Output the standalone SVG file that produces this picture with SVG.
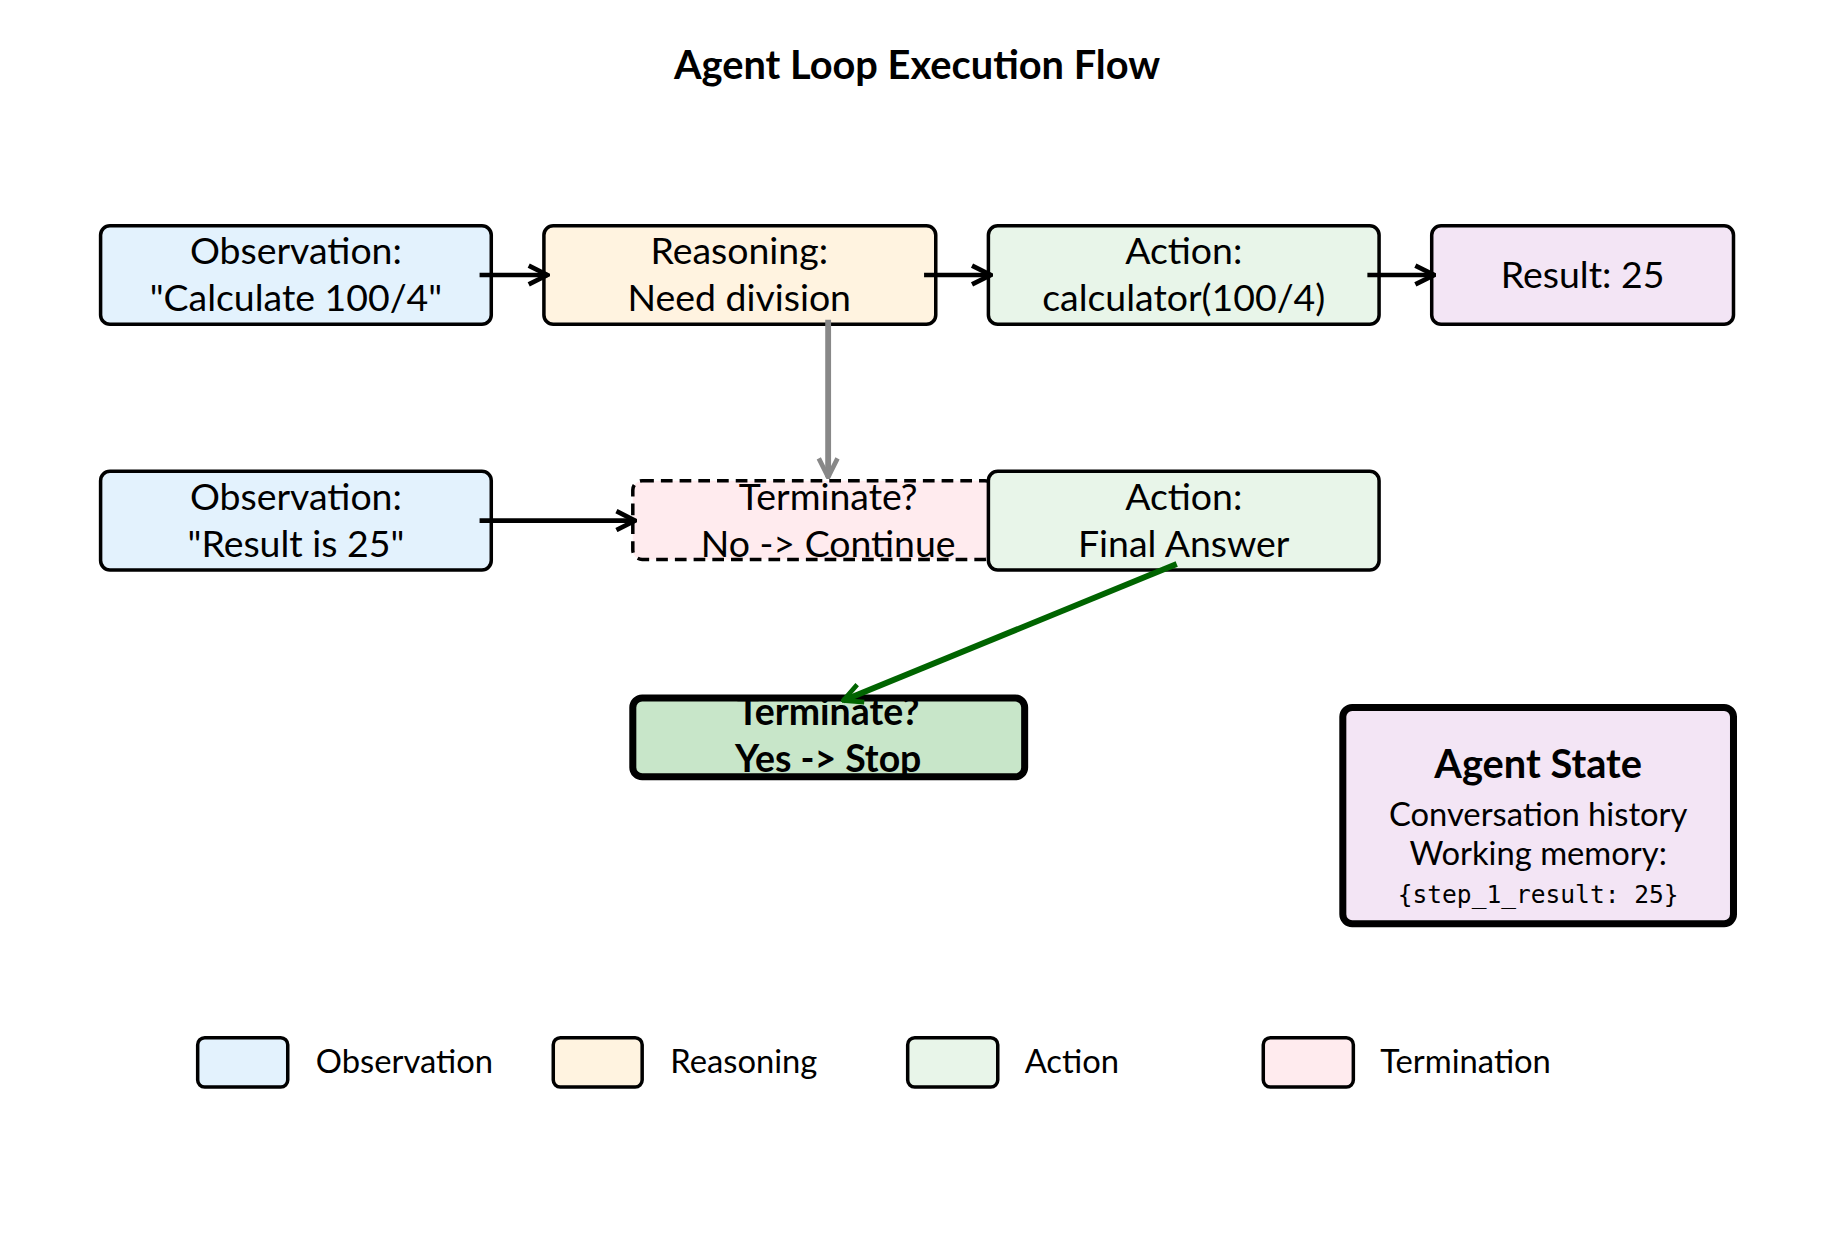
<svg xmlns="http://www.w3.org/2000/svg" width="1834" height="1234" viewBox="0 0 1834 1234">
<defs>
<style>
.b{stroke:#000;stroke-width:3}
.t{font-family:Lato,"Liberation Sans",sans-serif;font-size:32px;text-anchor:middle;fill:#000}
.l{font-family:Lato,"Liberation Sans",sans-serif;font-size:28px;fill:#000}
.c{fill:none;stroke-width:4}
</style>
<marker id="ak" viewBox="0 0 10 10" refX="9" refY="5" markerWidth="5" markerHeight="5" orient="auto"><path d="M1,1 L9,5 L1,9" fill="none" stroke="#000" stroke-width="2"/></marker>
<marker id="ag" viewBox="0 0 10 10" refX="9" refY="5" markerWidth="4" markerHeight="4" orient="auto"><path d="M1,1 L9,5 L1,9" fill="none" stroke="#888" stroke-width="2"/></marker>
<marker id="agr" viewBox="0 0 10 10" refX="9" refY="5" markerWidth="4" markerHeight="4" orient="auto"><path d="M1,1 L9,5 L1,9" fill="none" stroke="#006400" stroke-width="2"/></marker>
</defs>
<rect width="1834" height="1234" fill="#fff"/>
<g transform="scale(1.1697,1.1752)">
<text x="784" y="67" class="t" style="font-weight:bold;font-size:34px">Agent Loop Execution Flow</text>
<g id="obs1"><rect x="86" y="192" width="334" height="84" rx="8" fill="#e3f2fd" class="b"/><text x="253" y="225" class="t">Observation:</text><text x="253" y="265" class="t">"Calculate 100/4"</text></g>
<g id="reason"><rect x="465" y="192" width="335" height="84" rx="8" fill="#fff3e0" class="b"/><text x="632" y="225" class="t">Reasoning:</text><text x="632" y="265" class="t">Need division</text></g>
<g id="action1"><rect x="845" y="192" width="334" height="84" rx="8" fill="#e8f5e9" class="b"/><text x="1012" y="225" class="t">Action:</text><text x="1012" y="265" class="t">calculator(100/4)</text></g>
<g id="result"><rect x="1224" y="192" width="258" height="84" rx="8" fill="#f3e5f5" class="b"/><text x="1353" y="245" class="t">Result: 25</text></g>
<g id="obs2"><rect x="86" y="401" width="334" height="84" rx="8" fill="#e3f2fd" class="b"/><text x="253" y="434" class="t">Observation:</text><text x="253" y="474" class="t">"Result is 25"</text></g>
<g id="term1"><rect x="541" y="409" width="309" height="67" rx="8" fill="#ffebee" class="b" stroke-dasharray="10,6"/><text x="708" y="434" class="t">Terminate?</text><text x="708" y="474" class="t">No -&gt; Continue</text></g>
<g id="action2"><rect x="845" y="401" width="334" height="84" rx="8" fill="#e8f5e9" class="b"/><text x="1012" y="434" class="t">Action:</text><text x="1012" y="474" class="t">Final Answer</text></g>
<g id="term2"><rect x="541" y="594" width="335" height="67" rx="8" fill="#c8e6c9" stroke="#000" stroke-width="6"/><text x="708" y="617" class="t" style="font-weight:bold">Terminate?</text><text x="708" y="657" class="t" style="font-weight:bold">Yes -&gt; Stop</text></g>
<g id="state"><rect x="1148" y="602" width="334" height="184" rx="8" fill="#f3e5f5" stroke="#000" stroke-width="6"/><text x="1315" y="662" class="t" style="font-weight:bold;font-size:34px">Agent State</text><text x="1315" y="703" class="t" style="font-size:28px">Conversation history</text><text x="1315" y="736" class="t" style="font-size:28px">Working memory:</text><text x="1315" y="768" class="t" style="font-family:'DejaVu Sans Mono','Liberation Mono',monospace;font-size:21px">{step_1_result: 25}</text></g>
<g id="connectors">
<line x1="410" y1="234" x2="468" y2="234" stroke="#000" class="c" marker-end="url(#ak)"/>
<line x1="790" y1="234" x2="847" y2="234" stroke="#000" class="c" marker-end="url(#ak)"/>
<line x1="1169" y1="234" x2="1226" y2="234" stroke="#000" class="c" marker-end="url(#ak)"/>
<line x1="708" y1="272" x2="708" y2="406" stroke="#888" stroke-width="5" fill="none" marker-end="url(#ag)"/>
<line x1="410" y1="443" x2="543" y2="443" stroke="#000" class="c" marker-end="url(#ak)"/>
<line x1="1006" y1="480" x2="721" y2="596" stroke="#006400" stroke-width="5" fill="none" marker-end="url(#agr)"/>
</g>
<g id="legend">
<rect x="169" y="883" width="77" height="42" rx="6" fill="#e3f2fd" class="b"/><text x="270" y="913" class="l">Observation</text>
<rect x="473" y="883" width="76" height="42" rx="6" fill="#fff3e0" class="b"/><text x="573" y="913" class="l">Reasoning</text>
<rect x="776" y="883" width="77" height="42" rx="6" fill="#e8f5e9" class="b"/><text x="876" y="913" class="l">Action</text>
<rect x="1080" y="883" width="77" height="42" rx="6" fill="#ffebee" class="b"/><text x="1180" y="913" class="l">Termination</text>
</g>
</g>
</svg>
